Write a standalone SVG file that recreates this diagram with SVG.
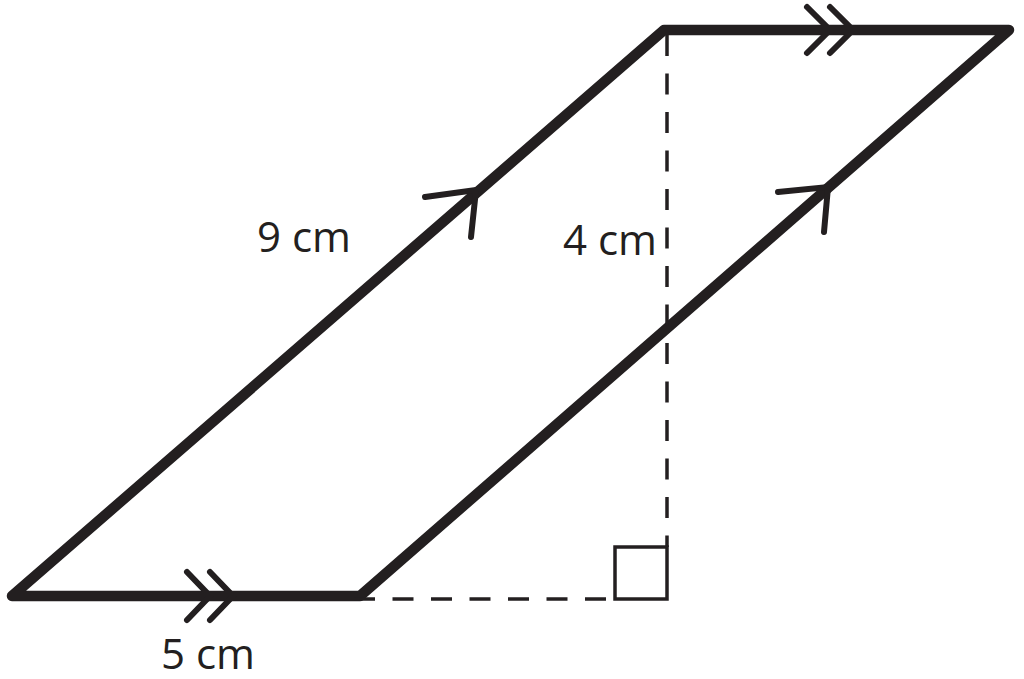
<svg xmlns="http://www.w3.org/2000/svg" width="1024" height="679" viewBox="0 0 1024 679">
<style>
.edge{fill:none;stroke:#231f20;stroke-width:10.5;stroke-linecap:round;stroke-linejoin:round}
.tick{fill:none;stroke:#231f20;stroke-width:6;stroke-linecap:round;stroke-linejoin:miter}
.dash{fill:none;stroke:#231f20;stroke-width:3.5;stroke-dasharray:21 17.5}
.sq{fill:none;stroke:#231f20;stroke-width:3.5}
.lbl{font-family:"Open Sans","Noto Sans",sans-serif;font-size:42px;fill:#231f20}
</style>
<rect width="1024" height="679" fill="#ffffff"/>
<g id="parallelogram">
<polygon class="edge" points="12,596 360,596 1009,30 664,30"/>
</g>
<g id="connectors">
<line class="dash" x1="667" y1="35" x2="667" y2="547"/>
<line class="dash" x1="354" y1="599" x2="614" y2="599"/>
<rect class="sq" x="615" y="547" width="52" height="52"/>
</g>
<g id="marks">
<polyline class="tick" points="425,197 476,190 471,237"/>
<polyline class="tick" points="778,192 828,187 824,232"/>
<polyline class="tick" points="807,7 830,30 807,53"/>
<polyline class="tick" points="830,7 853,30 830,53"/>
<polyline class="tick" points="187,572 210,596 187,620"/>
<polyline class="tick" points="210,572 233,596 210,620"/>
</g>
<g id="labels">
<text class="lbl" x="257" y="252">9 cm</text>
<text class="lbl" x="563" y="255">4 cm</text>
<text class="lbl" x="161" y="669" font-size="40">5 cm</text>
</g>
</svg>
